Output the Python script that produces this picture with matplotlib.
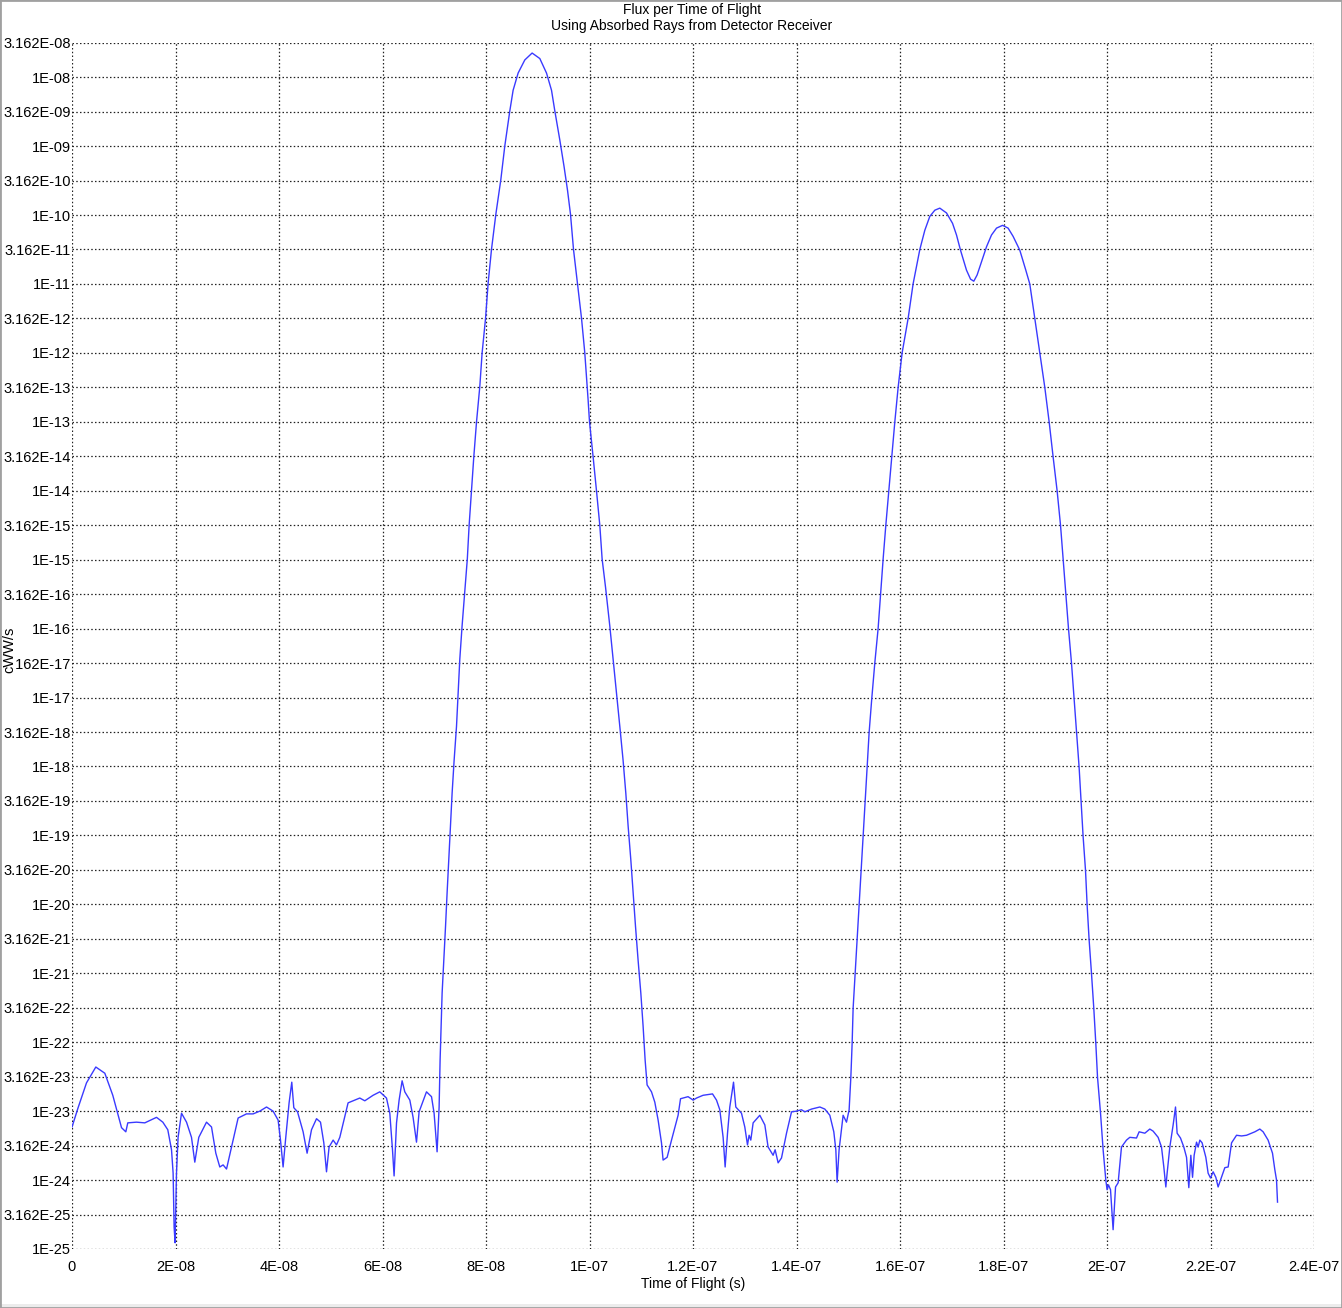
import numpy as np
import matplotlib
matplotlib.use("Agg")
import matplotlib.pyplot as plt
from matplotlib.patches import Rectangle

plt.rcParams['font.family'] = ['Liberation Sans', 'DejaVu Sans']

# Time of flight in nanoseconds, flux as log10(W/s)
time_ns = [
    0.0, 1.18, 2.80, 4.60, 6.34, 7.88, 9.57, 10.40, 10.78, 12.46, 14.07, 16.33, 17.55, 18.51,
    19.23, 19.54, 19.73, 19.92, 20.19, 20.50, 21.16, 22.13, 23.09, 23.73, 24.50, 25.99, 26.96,
    27.79, 28.56, 29.20, 29.86, 31.13, 32.10, 33.72, 35.00, 36.29, 37.59, 38.86, 39.83, 40.29,
    40.79, 41.31, 41.95, 42.47, 42.86, 43.58, 44.66, 45.43, 46.28, 47.25, 48.02, 48.66, 49.18,
    49.68, 50.46, 51.11, 51.75, 53.35, 55.61, 56.58, 58.18, 59.48, 60.77, 61.41, 61.93, 62.24,
    62.71, 63.21, 63.79, 64.31, 65.28, 65.91, 66.57, 67.07, 68.50, 69.47, 69.97, 70.55, 70.94,
    71.13, 71.33, 71.52, 71.85, 72.18, 72.48, 72.81, 73.14, 73.45, 73.84, 74.30, 74.61, 74.94,
    75.38, 75.90, 76.39, 76.74, 77.20, 77.64, 78.17, 78.80, 79.25, 79.91, 80.41, 81.06, 81.90,
    82.86, 83.63, 84.60, 85.24, 86.21, 87.50, 88.91, 90.40, 91.69, 92.66, 93.30, 94.26, 95.09,
    95.75, 96.33, 96.91, 97.68, 98.46, 99.09, 99.73, 100.00, 100.70, 101.35, 101.99, 102.44,
    103.10, 103.92, 104.56, 105.22, 105.86, 106.49, 107.02, 107.46, 107.98, 108.43, 108.89,
    109.39, 109.92, 110.36, 110.75, 111.13, 111.98, 112.62, 113.26, 113.91, 114.22, 115.00,
    115.85, 117.12, 117.59, 119.05, 120.02, 120.68, 121.95, 123.77, 124.54, 125.18, 125.82,
    126.21, 126.67, 127.11, 127.83, 128.27, 129.37, 130.01, 130.53, 130.84, 131.17, 131.62,
    132.91, 133.88, 134.51, 135.48, 135.87, 136.45, 137.10, 138.07, 139.04, 140.00, 140.97,
    141.61, 142.90, 144.51, 145.47, 146.44, 147.21, 147.60, 147.85, 148.23, 149.01, 149.66,
    150.17, 150.50, 150.75, 150.94, 151.33, 151.71, 152.10, 152.49, 152.87, 153.26, 153.65,
    154.03, 154.55, 155.13, 155.77, 156.24, 156.74, 157.26, 157.84, 158.42, 159.00, 159.64,
    160.41, 161.57, 162.53, 163.83, 164.80, 165.76, 166.73, 167.69, 168.99, 170.15, 170.92,
    171.69, 172.85, 173.63, 174.26, 174.90, 175.75, 176.72, 177.68, 178.65, 179.81, 180.89,
    181.86, 183.15, 184.31, 185.08, 186.05, 187.02, 187.98, 188.82, 189.59, 190.36, 191.02,
    191.52, 192.04, 192.56, 193.14, 193.64, 194.11, 194.61, 195.00, 195.38, 195.85, 196.16,
    196.54, 197.01, 197.45, 197.84, 198.17, 198.75, 199.25, 199.77, 200.02, 200.29, 200.68,
    201.18, 201.65, 202.15, 202.80, 203.77, 204.41, 205.70, 206.21, 207.31, 208.27, 208.91,
    209.88, 210.53, 210.98, 211.37, 211.62, 212.14, 212.78, 213.24, 213.55, 214.20, 214.84,
    215.37, 215.81, 216.20, 216.53, 216.84, 217.30, 217.61, 217.94, 218.38, 219.10, 219.54,
    220.00, 220.51, 221.03, 221.47, 222.13, 222.77, 223.41, 224.07, 225.03, 226.00, 226.96,
    228.57, 229.53, 230.17, 231.13, 231.98, 232.43, 232.76, 232.95,
]
log_flux = [
    -23.23, -22.95, -22.59, -22.36, -22.45, -22.77, -23.24, -23.30, -23.17, -23.16, -23.17,
    -23.09, -23.16, -23.27, -23.56, -23.90, -24.68, -24.91, -23.90, -23.38, -23.03, -23.16,
    -23.38, -23.74, -23.38, -23.16, -23.23, -23.61, -23.81, -23.78, -23.84, -23.42, -23.10,
    -23.04, -23.04, -23.00, -22.94, -23.00, -23.13, -23.42, -23.81, -23.38, -22.88, -22.58,
    -22.95, -23.01, -23.30, -23.61, -23.27, -23.11, -23.16, -23.46, -23.88, -23.52, -23.42,
    -23.49, -23.38, -22.88, -22.81, -22.85, -22.77, -22.72, -22.81, -23.03, -23.56, -23.94,
    -23.17, -22.84, -22.56, -22.72, -22.84, -23.09, -23.45, -23.01, -22.72, -22.79, -23.03,
    -23.59, -22.94,
    -22.26, -21.77, -21.29, -20.81, -20.32, -19.84, -19.35, -18.86, -18.39, -17.91, -17.42,
    -16.94, -16.44, -15.96, -15.47, -14.99, -14.50, -14.00, -13.51, -13.00, -12.49, -12.00,
    -11.50, -10.99, -10.50, -9.99, -9.49, -9.00, -8.49, -8.19, -7.94, -7.75, -7.65, -7.73,
    -7.94, -8.19, -8.49, -8.91, -9.30, -9.64, -9.99, -10.50, -10.99, -11.50, -12.00, -12.68,
    -13.00, -13.51, -14.00, -14.50, -14.99, -15.40, -15.96, -16.44, -16.94, -17.42, -17.91,
    -18.39, -18.86, -19.35, -19.84, -20.32, -20.81, -21.29, -21.77, -22.26, -22.62, -22.72,
    -22.87, -23.13, -23.46, -23.71, -23.67, -23.42, -23.06, -22.82, -22.79, -22.84, -22.81,
    -22.77, -22.75, -22.84, -22.98, -23.38, -23.81, -23.32, -22.94, -22.58, -22.94, -23.03,
    -23.23, -23.49, -23.35, -23.42, -23.17, -23.06, -23.20, -23.52, -23.64, -23.56, -23.75,
    -23.68, -23.32, -23.01, -23.00, -22.98, -23.01, -22.97, -22.94, -22.97, -23.06, -23.30,
    -23.56, -24.03, -23.56, -23.06, -23.16, -22.98,
    -22.51, -22.02, -21.51, -21.01, -20.51, -20.01, -19.51, -19.01, -18.51, -18.01, -17.51,
    -17.01, -16.50, -16.00, -15.50, -14.99, -14.50, -14.00, -13.51, -13.00, -12.50, -12.00,
    -11.50, -11.00, -10.50, -10.22, -10.02, -9.93, -9.90, -9.97, -10.12, -10.29, -10.51,
    -10.80, -10.93, -10.96, -10.87, -10.68, -10.46, -10.29, -10.19, -10.15, -10.19, -10.31,
    -10.51, -10.80, -11.00, -11.50, -12.00, -12.50, -13.00, -13.51, -14.00, -14.50, -14.99,
    -15.50, -16.00, -16.50, -17.01, -17.51, -18.01, -18.51, -19.01, -19.51, -20.01, -20.51,
    -21.01, -21.51, -22.02, -22.51, -23.03, -23.56, -24.00, -24.14, -24.07, -24.14, -24.72,
    -24.10, -24.04, -23.52, -23.42, -23.38, -23.39, -23.30, -23.32, -23.26, -23.29, -23.38,
    -23.52, -23.81, -24.10, -23.90, -23.52, -23.20, -22.94, -23.32, -23.39, -23.52, -23.67,
    -24.11, -23.64, -23.96, -23.64, -23.45, -23.52, -23.42, -23.46, -23.67, -23.90, -23.97,
    -23.88, -23.96, -24.10, -23.96, -23.82, -23.81, -23.46, -23.35, -23.36, -23.35, -23.30,
    -23.26, -23.30, -23.42, -23.61, -23.85, -24.00, -24.32,
]

x_ticks = [0, 2e-8, 4e-8, 6e-8, 8e-8, 1e-7, 1.2e-7, 1.4e-7, 1.6e-7, 1.8e-7, 2e-7, 2.2e-7, 2.4e-7]
x_tick_labels = ["0", "2E-08", "4E-08", "6E-08", "8E-08", "1E-07", "1.2E-07", "1.4E-07",
                 "1.6E-07", "1.8E-07", "2E-07", "2.2E-07", "2.4E-07"]
y_exponents = list(range(-25, -7))  # decades from 1E-25 to 1E-08

t = np.array(time_ns) * 1e-9
flux = 10.0 ** np.array(log_flux)

W, H = 1342, 1308
fig = plt.figure(figsize=(W / 100, H / 100), dpi=100)
fig.patch.set_facecolor('white')

ax_left, ax_right = 72 / W, 1314 / W
ax_bottom, ax_top = 1 - 1249 / H, 1 - 42.7 / H
ax = fig.add_axes([ax_left, ax_bottom, ax_right - ax_left, ax_top - ax_bottom])

ax.plot(t, flux, color='#3a3aff', lw=1.0, zorder=3)
ax.set_yscale('log')
ax.set_xlim(0, 2.4e-7)
ax.set_ylim(1e-25, 3.162e-8)

# y ticks: each decade and half decade
yt, ytl = [], []
for e in y_exponents:
    yt.append(10.0 ** e)
    ytl.append(f"1E-{abs(e):02d}")
    yt.append(3.162 * 10.0 ** e)
    ytl.append(f"3.162E-{abs(e):02d}")
ax.set_yticks(yt)
ax.set_yticklabels(ytl)
ax.yaxis.set_minor_locator(matplotlib.ticker.NullLocator())
ax.set_xticks(x_ticks)
ax.set_xticklabels(x_tick_labels)

for s in ax.spines.values():
    s.set_visible(False)
ax.tick_params(axis='both', length=0, labelsize=10.5, colors='black')
ax.tick_params(axis='y', pad=1)
ax.tick_params(axis='x', pad=8)
ax.grid(True, which='major', color='#222222', linestyle=(0, (1.2, 1.8)), linewidth=0.9)
ax.set_axisbelow(True)

ax.set_xlabel("Time of Flight (s)", fontsize=10, labelpad=2)

fig.text(692 / W, 1 - 10 / H, "Flux per Time of Flight", ha='center', va='center', fontsize=10)
fig.text(692 / W, 1 - 26 / H, "Using Absorbed Rays from Detector Receiver", ha='center',
         va='center', fontsize=10)

fig.text(9 / W, 1 - 650 / H, "cWW/s", rotation=90, ha='center', va='center', fontsize=10.5,
         bbox=dict(facecolor='white', edgecolor='none', pad=0), zorder=10)

# window frame
fig.patches.append(Rectangle((0, 0), 1, 1, transform=fig.transFigure, fill=False,
                             edgecolor='#a0a0a0', lw=2.0, zorder=20))
fig.patches.append(Rectangle((0, 0), 1, 4 / H, transform=fig.transFigure, facecolor='#ececec',
                             edgecolor='none', zorder=19))

fig.savefig("out.png", dpi=100)
